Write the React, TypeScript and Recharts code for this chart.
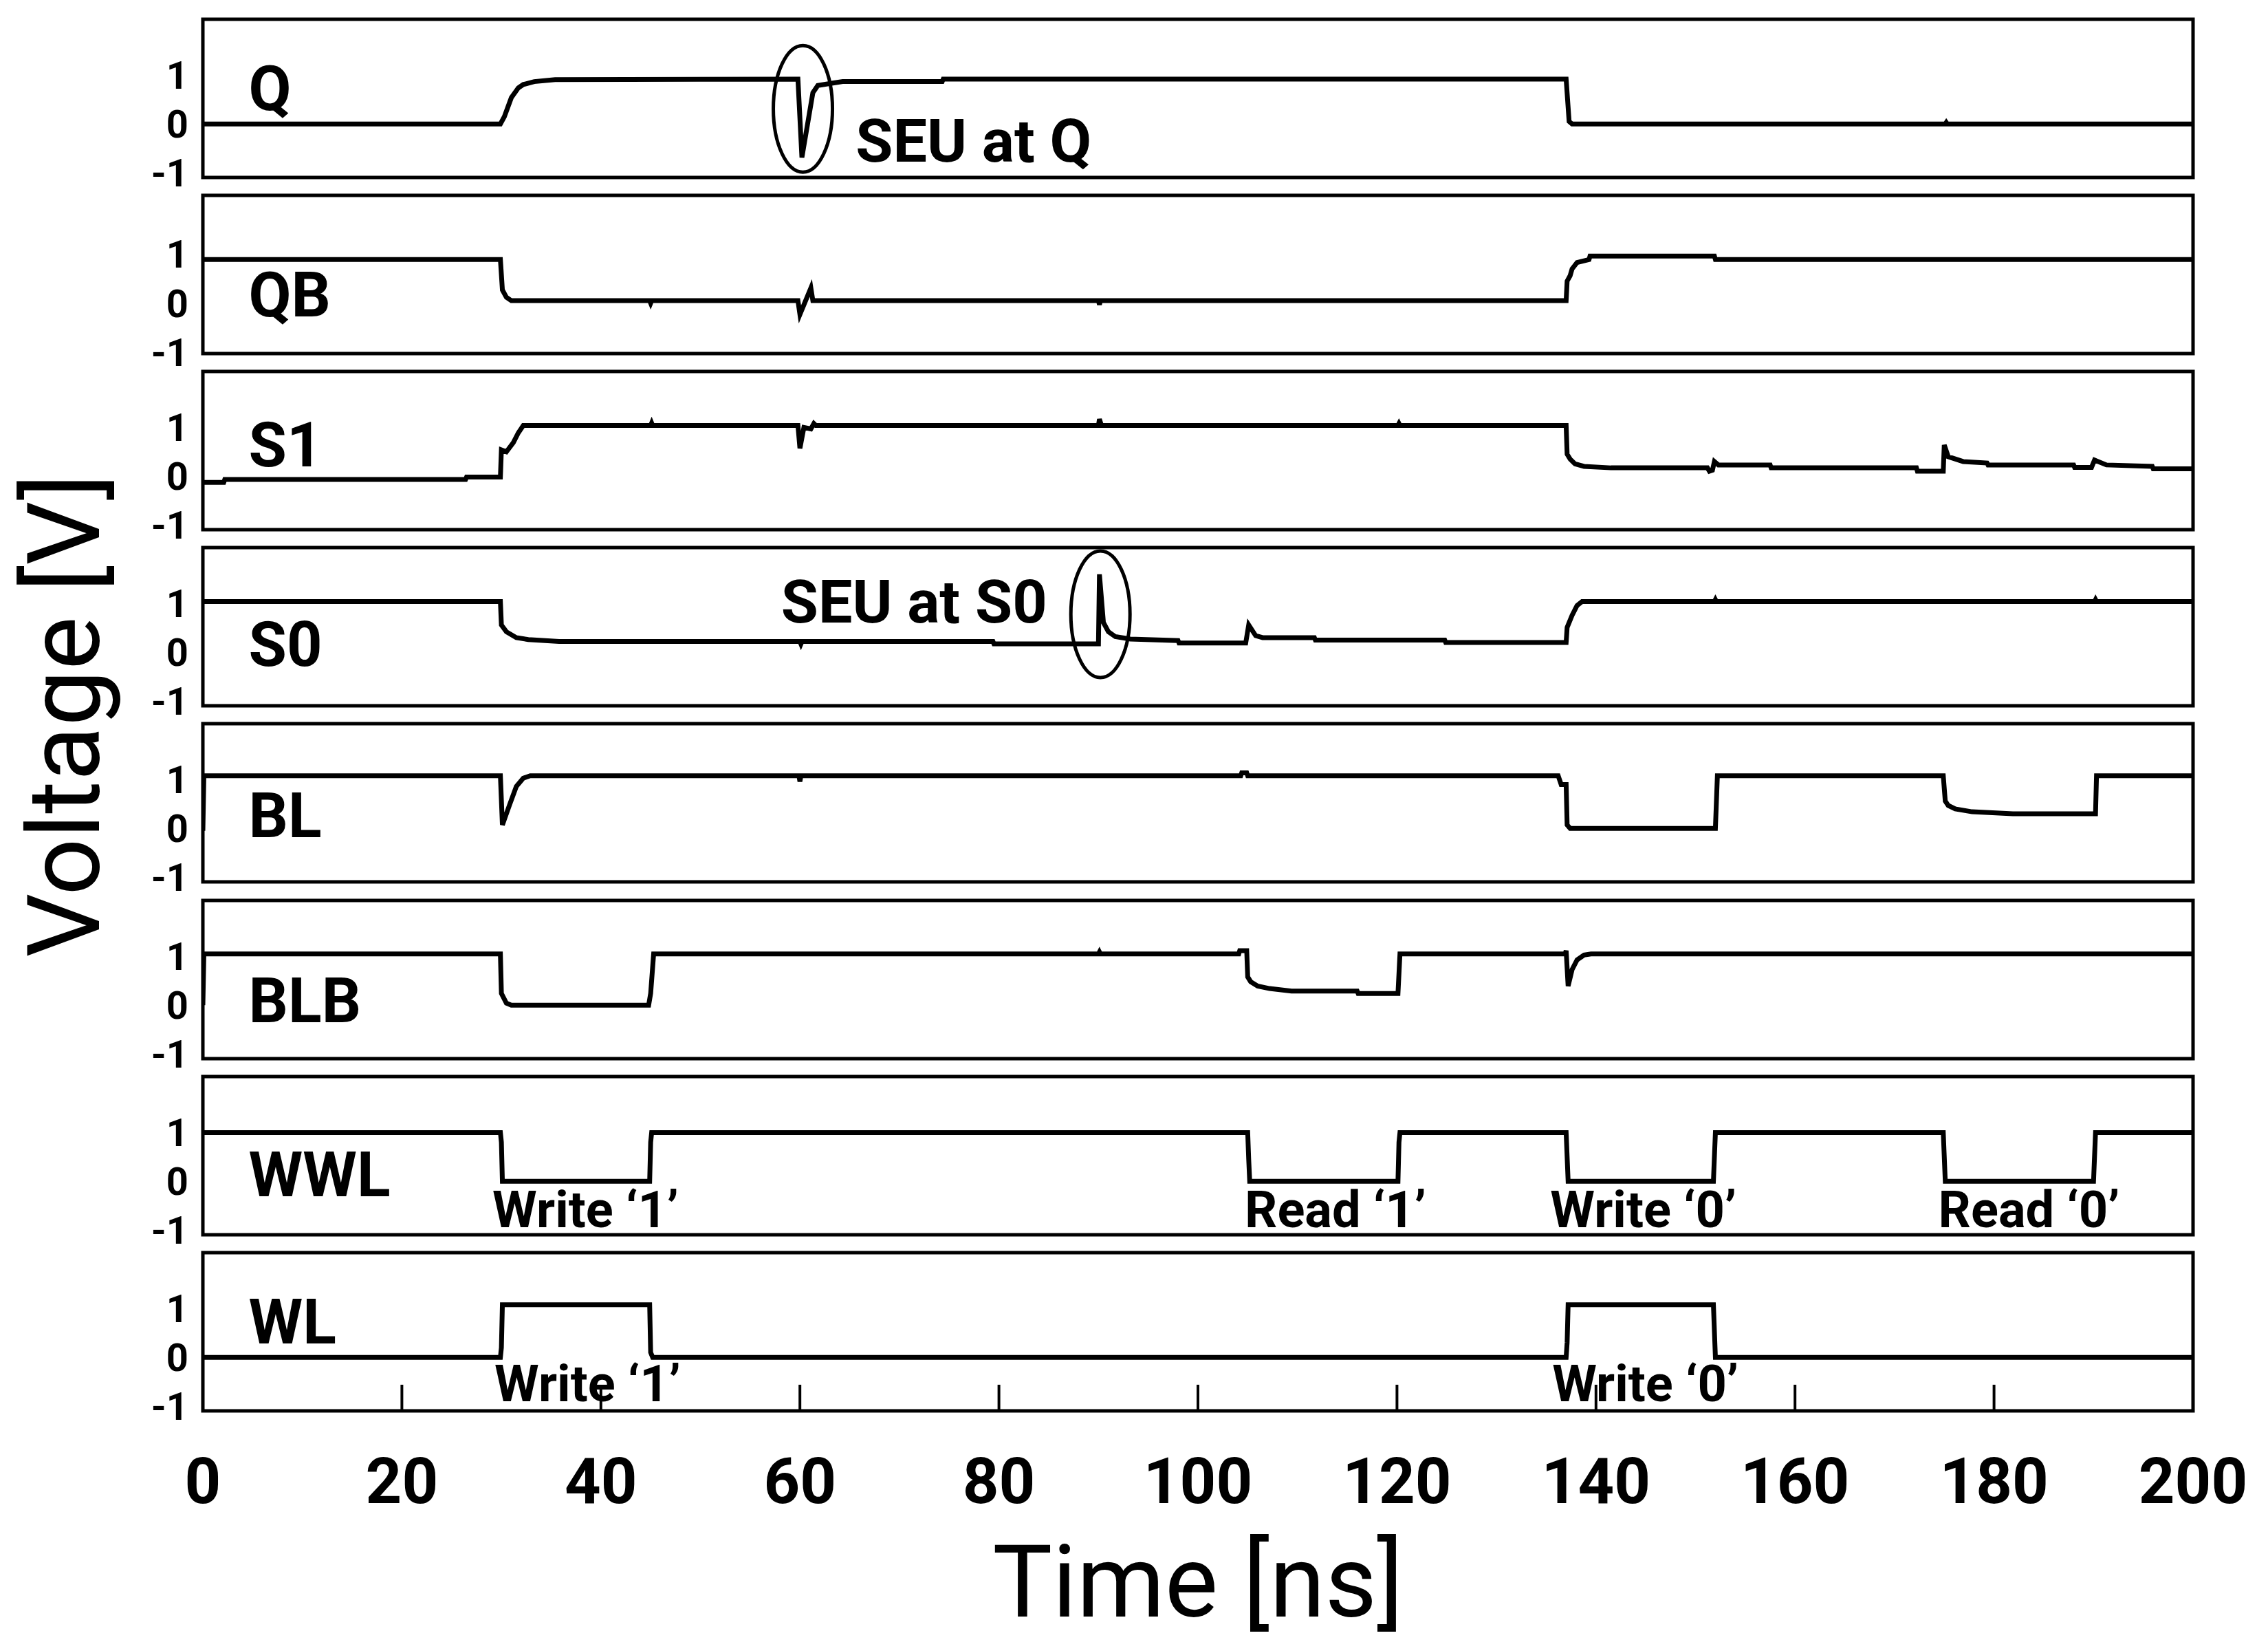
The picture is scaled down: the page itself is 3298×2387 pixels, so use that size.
import React from "react";
import { LineChart, Line, XAxis, YAxis, ReferenceDot, ReferenceArea } from "recharts";

// page / frame layout (px)
const W = 3298;
const H = 2387;
const PLOT_LEFT = 295;
const PLOT_RIGHT = 3189;
const PANEL_TOP = 28;
const PANEL_STEP = 256.1;
const PANEL_H = 230;
const PAD = 34;
const Y_AXIS_W = 80;
const X_AXIS_H = 170;
const FONT = "Roboto, 'Liberation Sans', Arial, sans-serif";

// axes
const timeTicks = [0, 20, 40, 60, 80, 100, 120, 140, 160, 180, 200];
const voltTicks = [-1, 0, 1];
const signalNames = ["Q", "QB", "S1", "S0", "BL", "BLB", "WWL", "WL"];
const panelDomains: [number, number][] = [
  [-1.1, 2.15],
  [-1.03, 2.2],
  [-1.1, 2.15],
  [-1.1, 2.15],
  [-1.1, 2.15],
  [-1.1, 2.15],
  [-1.1, 2.15],
  [-1.1, 2.15],
];

// waveforms, [time ns, voltage V]
const q = [
  [0, 0], [29.9, 0], [30.3, 0.15], [31.0, 0.54], [31.7, 0.74], [32.2, 0.81], [33.3, 0.87], [35.4, 0.91],
  [59.8, 0.92], [60.2, -0.69], [61.3, 0.64], [61.8, 0.79], [63.3, 0.84], [64.3, 0.87], [74.3, 0.87], [74.4, 0.92],
  [137.0, 0.92], [137.3, 0.05], [137.6, 0], [175.1, 0], [175.2, 0.03], [175.3, 0], [200, 0],
];
const qb = [
  [0, 0.89], [29.9, 0.89], [30.1, 0.27], [30.5, 0.12], [31.0, 0.05], [44.9, 0.05], [45.0, 0.0], [45.1, 0.05],
  [59.8, 0.05], [60.0, -0.23], [61.1, 0.31], [61.3, 0.05], [90.0, 0.05], [90.1, -0.03], [90.2, 0.05],
  [137.0, 0.05], [137.1, 0.45], [137.4, 0.56], [137.6, 0.7], [138.1, 0.83], [139.3, 0.89], [139.4, 0.96],
  [151.9, 0.96], [152.0, 0.89], [200, 0.89],
];
const s1 = [
  [0, -0.13], [2.1, -0.13], [2.2, -0.07], [26.4, -0.07], [26.5, -0.02], [29.9, -0.02], [30.0, 0.54], [30.5, 0.5],
  [31.2, 0.69], [31.7, 0.89], [32.2, 1.04], [45.0, 1.04], [45.1, 1.09], [45.2, 1.04], [59.8, 1.04], [60.0, 0.57],
  [60.4, 1.0], [61.1, 0.97], [61.4, 1.08], [61.6, 1.04], [90.0, 1.04], [90.1, 1.17], [90.3, 1.04],
  [120.1, 1.04], [120.2, 1.08], [120.3, 1.04], [137.0, 1.04], [137.1, 0.45], [137.4, 0.35], [137.9, 0.25],
  [138.8, 0.2], [141.5, 0.17], [151.2, 0.17], [151.4, 0.1], [151.7, 0.12], [151.9, 0.3], [152.3, 0.23],
  [157.5, 0.23], [157.6, 0.17], [172.2, 0.17], [172.3, 0.1], [174.9, 0.1], [175.0, 0.64], [175.4, 0.4],
  [176.9, 0.3], [179.3, 0.27], [179.4, 0.23], [188.0, 0.23], [188.1, 0.18], [189.8, 0.18], [190.1, 0.33],
  [191.3, 0.23], [195.9, 0.2], [196.0, 0.15], [200, 0.15],
];
const s0 = [
  [0, 1.04], [29.9, 1.04], [30.0, 0.56], [30.5, 0.42], [31.5, 0.3], [32.7, 0.26], [35.8, 0.22], [60.0, 0.22],
  [60.1, 0.17], [60.2, 0.22], [79.4, 0.22], [79.5, 0.17], [90.0, 0.17], [90.1, 1.6], [90.5, 0.61], [91.0, 0.42],
  [91.7, 0.32], [93.2, 0.27], [98.0, 0.24], [98.1, 0.19], [104.8, 0.19], [105.1, 0.56], [105.8, 0.34],
  [106.5, 0.3], [111.7, 0.3], [111.8, 0.25], [124.8, 0.25], [124.9, 0.2], [137.0, 0.2], [137.1, 0.51],
  [137.6, 0.76], [138.1, 0.96], [138.6, 1.04], [151.9, 1.04], [152.0, 1.08], [152.1, 1.04], [190.1, 1.04],
  [190.2, 1.08], [190.3, 1.04], [200, 1.04],
];
const bl = [
  [0, -0.05], [0.1, 1.08], [29.9, 1.08], [30.1, 0.07], [30.8, 0.47], [31.5, 0.86], [32.2, 1.03], [32.9, 1.08],
  [59.9, 1.08], [60.0, 0.96], [60.1, 1.08], [104.3, 1.08], [104.4, 1.14], [104.9, 1.14], [105.0, 1.08],
  [136.2, 1.08], [136.5, 0.9], [137.0, 0.9], [137.1, 0.07], [137.4, 0], [152.0, 0], [152.2, 1.08],
  [174.9, 1.08], [175.1, 0.56], [175.4, 0.47], [176.1, 0.4], [177.8, 0.34], [181.9, 0.3], [190.2, 0.3],
  [190.3, 1.08], [200, 1.08],
];
const blb = [
  [0, 0], [0.1, 1.05], [29.9, 1.05], [30.0, 0.24], [30.5, 0.04], [31.0, 0], [44.8, 0], [45.0, 0.24],
  [45.3, 1.05], [90.0, 1.05], [90.1, 1.09], [90.2, 1.05], [104.1, 1.05], [104.2, 1.12], [104.9, 1.12],
  [105.0, 0.58], [105.3, 0.48], [106.0, 0.39], [107.2, 0.34], [109.4, 0.29], [116.0, 0.29], [116.1, 0.24],
  [120.1, 0.24], [120.3, 1.05], [136.9, 1.05], [137.0, 1.12], [137.2, 0.39], [137.6, 0.73], [138.1, 0.93],
  [138.8, 1.03], [139.5, 1.05], [200, 1.05],
];
const wwl = [
  [0, 1], [29.9, 1], [30.0, 0.8], [30.1, 0], [44.9, 0], [45.0, 0.8], [45.1, 1], [105.0, 1], [105.1, 0.45],
  [105.2, 0], [120.1, 0], [120.2, 0.8], [120.3, 1], [137.0, 1], [137.2, 0], [151.8, 0], [152.0, 1],
  [174.9, 1], [175.1, 0], [190.0, 0], [190.2, 1], [200, 1],
];
const wl = [
  [0, 0], [29.9, 0], [30.0, 0.2], [30.1, 1.08], [44.9, 1.08], [45.0, 0.1], [45.2, 0], [137.0, 0],
  [137.1, 0.3], [137.2, 1.08], [151.8, 1.08], [152.0, 0], [200, 0],
];
const signals = [q, qb, s1, s0, bl, blb, wwl, wl];

// annotations, in data coordinates of their panel
const nameLabelAt = [0.29, -0.27, 0.2, -0.28, -0.18, -0.35, -0.31, 0.29];
const opLabels = [
  { panel: 6, t: 29.1, v: -0.95, text: "Write \u20181\u2019" },
  { panel: 6, t: 104.7, v: -0.95, text: "Read \u20181\u2019" },
  { panel: 6, t: 135.4, v: -0.95, text: "Write \u20180\u2019" },
  { panel: 6, t: 174.4, v: -0.95, text: "Read \u20180\u2019" },
  { panel: 7, t: 29.3, v: -0.9, text: "Write \u20181\u2019" },
  { panel: 7, t: 135.6, v: -0.9, text: "Write \u20180\u2019" },
];
const seuNotes = [
  { panel: 0, t: 65.6, v: -0.78, text: "SEU at Q" },
  { panel: 3, t: 58.1, v: 0.61, text: "SEU at S0" },
];
const seuRings = [
  { panel: 0, t: 60.3, v: 0.31 },
  { panel: 3, t: 90.2, v: 0.78 },
];

const toPoints = (arr: number[][]) => arr.map(([t, v]) => ({ t, v }));

const TimeTick = (props: any) => {
  const { x, y, payload } = props;
  const inner = payload.value > 0 && payload.value < 200;
  return (
    <g>
      {inner && <line x1={x} x2={x} y1={y} y2={y - 38} stroke="#000" strokeWidth={4} />}
      <text x={x} y={y + 134} textAnchor="middle" fill="#000" fontFamily={FONT} fontWeight={700} fontSize={92}>
        {payload.value}
      </text>
    </g>
  );
};

const textShape = (text: string, size: number) => (p: any) => (
  <text x={p.cx} y={p.cy} fill="#000" fontFamily={FONT} fontWeight={700} fontSize={size}>
    {text}
  </text>
);

const ringShape = (p: any) => (
  <ellipse cx={p.cx} cy={p.cy} rx={43} ry={92} fill="none" stroke="#000" strokeWidth={5} />
);

function Panel({ idx }: { idx: number }) {
  const last = idx === signalNames.length - 1;
  const top = PANEL_TOP + idx * PANEL_STEP - PAD;
  const height = PANEL_H + PAD * 2 + (last ? X_AXIS_H : 0);
  const domain = panelDomains[idx];
  return (
    <div style={{ position: "absolute", left: 0, top }}>
      <LineChart
        width={W}
        height={height}
        margin={{ top: PAD, right: W - PLOT_RIGHT, bottom: PAD, left: PLOT_LEFT - Y_AXIS_W }}
      >
        <XAxis
          xAxisId="b"
          type="number"
          dataKey="t"
          domain={[0, 200]}
          ticks={timeTicks}
          interval={0}
          allowDataOverflow
          height={last ? X_AXIS_H : 0}
          axisLine={false}
          tickLine={false}
          tickSize={0}
          tickMargin={0}
          tick={last ? (p: any) => <TimeTick {...p} /> : false}
        />
        <YAxis
          yAxisId="l"
          type="number"
          domain={domain}
          ticks={voltTicks}
          interval={0}
          allowDataOverflow
          width={Y_AXIS_W}
          axisLine={false}
          tickLine={false}
          tickSize={0}
          tickMargin={21}
          tick={{ fill: "#000", fontFamily: FONT, fontWeight: 700, fontSize: 56 }}
        />
        {/* panel frame */}
        <ReferenceArea
          xAxisId="b"
          yAxisId="l"
          x1={0}
          x2={200}
          y1={domain[0]}
          y2={domain[1]}
          fill="none"
          fillOpacity={0}
          stroke="#000"
          strokeWidth={5}
          ifOverflow="visible"
        />
        <Line
          xAxisId="b"
          yAxisId="l"
          data={toPoints(signals[idx])}
          dataKey="v"
          type="linear"
          dot={false}
          stroke="#000"
          strokeWidth={7}
          isAnimationActive={false}
        />
        <ReferenceDot
          xAxisId="b"
          yAxisId="l"
          x={4.6}
          y={nameLabelAt[idx]}
          r={0}
          ifOverflow="visible"
          shape={textShape(signalNames[idx], 90)}
        />
        {seuRings
          .filter((r) => r.panel === idx)
          .map((r, i) => (
            <ReferenceDot key={`ring-${i}`} xAxisId="b" yAxisId="l" x={r.t} y={r.v} r={0} ifOverflow="visible" shape={ringShape} />
          ))}
        {seuNotes
          .filter((n) => n.panel === idx)
          .map((n, i) => (
            <ReferenceDot key={`seu-${i}`} xAxisId="b" yAxisId="l" x={n.t} y={n.v} r={0} ifOverflow="visible" shape={textShape(n.text, 88)} />
          ))}
        {opLabels
          .filter((o) => o.panel === idx)
          .map((o, i) => (
            <ReferenceDot key={`op-${i}`} xAxisId="b" yAxisId="l" x={o.t} y={o.v} r={0} ifOverflow="visible" shape={textShape(o.text, 74)} />
          ))}
      </LineChart>
    </div>
  );
}

export default function App() {
  return (
    <div style={{ position: "absolute", left: 0, top: 0, width: W, height: H, background: "#fff", overflow: "hidden" }}>
      {signalNames.map((_, i) => (
        <Panel key={i} idx={i} />
      ))}
      <svg width={W} height={H} style={{ position: "absolute", left: 0, top: 0, pointerEvents: "none" }}>
        <text x={(PLOT_LEFT + PLOT_RIGHT) / 2} y={2350} textAnchor="middle" fill="#000" fontFamily={FONT} fontSize={146}>
          Time [ns]
        </text>
        <text
          x={0}
          y={0}
          transform={`translate(144, 1040) rotate(-90)`}
          textAnchor="middle"
          fill="#000"
          fontFamily={FONT}
          fontSize={146}
        >
          Voltage [V]
        </text>
      </svg>
    </div>
  );
}
